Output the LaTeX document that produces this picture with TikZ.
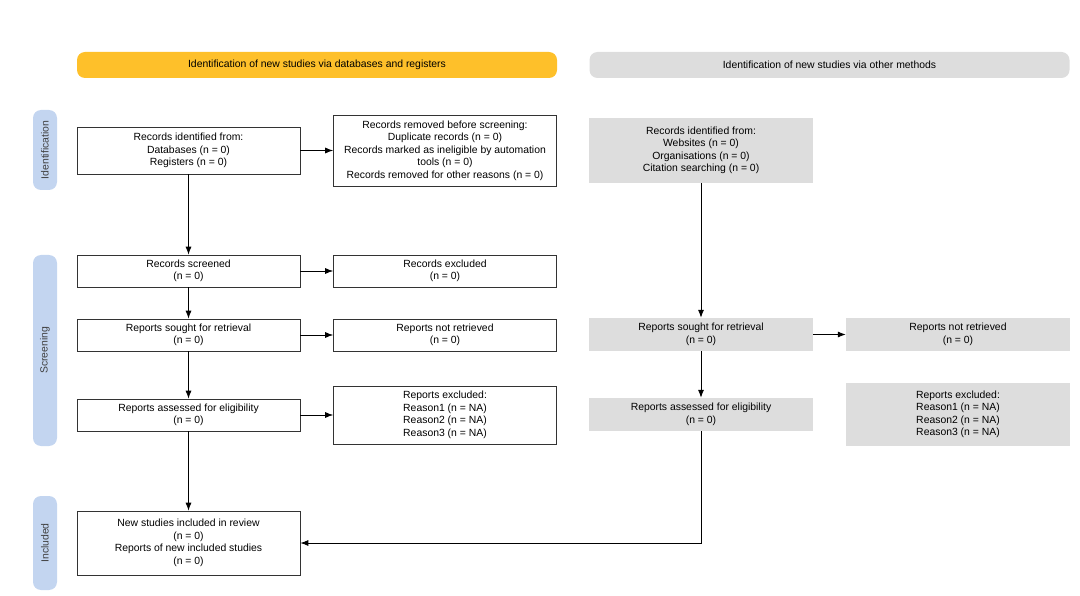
\documentclass[tikz,border=0pt]{standalone}
\usepackage{fontspec}
\setmainfont{Liberation Sans}
\usetikzlibrary{arrows.meta}

\definecolor{dbyellow}{HTML}{FEC02A}
\definecolor{othergrey}{HTML}{DDDDDD}
\definecolor{phaseblue}{HTML}{C3D5F0}

\tikzset{
  every node/.style={align=center, font=\fontsize{10.4}{12.5}\selectfont, inner sep=2pt},
  box/.style={draw=black!80, line width=0.7pt, minimum width=223pt, minimum height=32pt},
  greybox/.style={fill=othergrey, minimum width=224pt, minimum height=33pt},
  header/.style={rounded corners=8pt, minimum width=480pt, minimum height=26pt},
  phase/.style={fill=phaseblue, text=black!75, rounded corners=8pt, rotate=90, minimum height=24pt}
}

\begin{document}
\begin{tikzpicture}[x=1pt, y=-1pt, every edge/.style={draw, line width=0.8pt, -{Latex[length=8pt, width=6pt]}}]
        \useasboundingbox (0,0) rectangle (1080,596);

        % headers
        \node[header, fill=dbyellow] (hdb) at (317,65) {Identification of new studies via databases and registers};
        \node[header, fill=othergrey] (hother) at (829.5,65) {Identification of new studies via other methods};

        % phases
        \node[phase, minimum width=80pt] (pid) at (45,150) {Identification};
        \node[phase, minimum width=191pt] (pscr) at (45,350.5) {Screening};
        \node[phase, minimum width=94pt] (pinc) at (45,543) {Included};

        % databases and registers
        \node[box, minimum height=47pt] (ident) at (188.5,150.5) {Records identified from:\\Databases (n = 0)\\Registers (n = 0)};
        \node[box, minimum height=71pt] (removed) at (445,150.5) {Records removed before screening:\\Duplicate records (n = 0)\\Records marked as ineligible by automation\\tools (n = 0)\\Records removed for other reasons (n = 0)};
        \node[box] (screened) at (188.5,271) {Records screened\\(n = 0)};
        \node[box] (excluded) at (445,271) {Records excluded\\(n = 0)};
        \node[box] (sought) at (188.5,335) {Reports sought for retrieval\\(n = 0)};
        \node[box] (notret) at (445,335) {Reports not retrieved\\(n = 0)};
        \node[box] (assessed) at (188.5,415) {Reports assessed for eligibility\\(n = 0)};
        \node[box, minimum height=58pt] (repexcl) at (445,415) {Reports excluded:\\Reason1 (n = NA)\\Reason2 (n = NA)\\Reason3 (n = NA)};
        \node[box, minimum height=64pt] (included) at (188.5,543) {New studies included in review\\(n = 0)\\Reports of new included studies\\(n = 0)};

        % other methods
        \node[greybox, minimum height=65pt] (oident) at (701,150.5) {Records identified from:\\Websites (n = 0)\\Organisations (n = 0)\\Citation searching (n = 0)};
        \node[greybox] (osought) at (701,334.5) {Reports sought for retrieval\\(n = 0)};
        \node[greybox] (onotret) at (958,334.5) {Reports not retrieved\\(n = 0)};
        \node[greybox] (oassessed) at (701,414.5) {Reports assessed for eligibility\\(n = 0)};
        \node[greybox, minimum height=63pt] (orepexcl) at (958,414.5) {Reports excluded:\\Reason1 (n = NA)\\Reason2 (n = NA)\\Reason3 (n = NA)};

        \path (ident) edge (removed)
              (ident) edge (screened)
              (screened) edge (excluded)
              (screened) edge (sought)
              (sought) edge (notret)
              (sought) edge (assessed)
              (assessed) edge (repexcl)
              (assessed) edge (included)
              (oident) edge (osought)
              (osought) edge (onotret)
              (osought) edge (oassessed)
              (oassessed) edge[to path={|- (\tikztotarget)}] (included);
    \end{tikzpicture}
\end{document}
